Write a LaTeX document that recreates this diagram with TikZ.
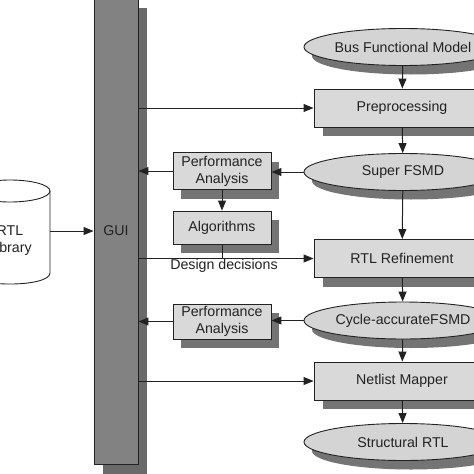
\documentclass[tikz,border=0pt]{standalone}
\usepackage{fontspec}
\setmainfont{Liberation Sans}
\usetikzlibrary{arrows.meta,shapes.geometric,shadows}
\definecolor{boxfill}{HTML}{D9D9D9}
\definecolor{ellfill}{HTML}{D4D4D4}
\definecolor{shad}{HTML}{747474}
\definecolor{guifill}{HTML}{828282}
\definecolor{guishad}{HTML}{6A6A6A}
\definecolor{linec}{HTML}{222222}
\begin{document}
\begin{tikzpicture}[x=1pt,y=-1pt,
  every node/.style={font=\fontsize{14.2}{17}\selectfont, text=linec},
  arr/.style={draw=linec, line width=1pt, -{Triangle[length=10pt,width=8pt]}},
  conn/.style={draw=linec, line width=1pt},
  flowbox/.style={rectangle, draw=linec, line width=0.9pt, fill=boxfill,
    minimum width=176pt, minimum height=38pt, inner sep=0pt,
    drop shadow={shadow xshift=9pt, shadow yshift=-9pt, fill=shad, opacity=1}},
  flowell/.style={ellipse, draw=linec, line width=0.9pt, fill=ellfill,
    minimum width=198pt, minimum height=37pt, inner sep=0pt,
    drop shadow={shadow xshift=8pt, shadow yshift=-9pt, fill=shad, opacity=1}},
  sidebox/.style={rectangle, draw=linec, line width=0.9pt, fill=boxfill,
    minimum width=98pt, minimum height=37pt, inner sep=0pt, align=center,
    drop shadow={shadow xshift=8pt, shadow yshift=-9pt, fill=shad, opacity=1}},
  guibar/.style={rectangle, draw=linec, line width=0.9pt, fill=guifill,
    minimum width=44pt, minimum height=466pt, inner sep=0pt,
    drop shadow={shadow xshift=9pt, shadow yshift=-10pt, fill=guishad, opacity=1}}
]
\useasboundingbox (0,0) rectangle (474,474);

% RTL library cylinder
\draw[draw=linec, line width=0.9pt, fill=white]
  (-30,191) -- (-30,273) .. controls (-30,287.7) and (50,287.7) .. (50,273) -- (50,191);
\draw[draw=linec, line width=0.9pt, fill=white] (10,191) ellipse [x radius=40, y radius=11];
\node[align=center] (lib) at (10,241) {RTL\\Library};
\coordinate (libR) at (50,231);

% GUI
\node[guibar] (gui) at (116,231) {GUI};

% main flow
\node[flowell] (bfm) at (403,47) {Bus Functional Model};
\node[flowbox] (pre) at (402,108) {Preprocessing};
\node[flowell] (sfsmd) at (403,172) {Super FSMD};
\node[flowbox] (rtl) at (402,258.5) {RTL Refinement};
\node[flowell] (cfsmd) at (403,320.5) {Cycle-accurateFSMD};
\node[flowbox] (nm) at (402,381) {Netlist Mapper};
\node[flowell] (srtl) at (403,442) {Structural RTL};

% side boxes
\node[sidebox] (pa1) at (222,171) {Performance\\Analysis};
\node[sidebox, minimum height=33pt] (alg) at (222,227.5) {Algorithms};
\node[sidebox, minimum height=35pt] (pa2) at (222,321.5) {Performance\\Analysis};

% connectors
\draw[arr] (libR) -- (gui.west |- libR);
\draw[arr] (bfm) -- (pre);
\draw[arr] (pre) -- (sfsmd);
\draw[arr] (sfsmd) -- (rtl);
\draw[arr] (rtl) -- (cfsmd);
\draw[arr] (cfsmd) -- (nm);
\draw[arr] (nm) -- (srtl);

\draw[arr] (gui.east |- pre.west) -- (pre.west);
\draw[arr] (sfsmd.west) -- (pa1.east |- sfsmd.west);
\draw[arr] (pa1.west) -- (gui.east |- pa1.west);
\draw[arr] (pa1) -- (alg);
\draw[arr] (gui.east |- rtl.west) -- (rtl.west);
\draw[conn] (alg.south) -- (alg.south |- rtl.west) coordinate (dd);
\node[anchor=north, inner sep=1pt] (ddlabel) at ([xshift=2pt]dd) {Design decisions};
\draw[arr] (cfsmd.west) -- (pa2.east |- cfsmd.west);
\draw[arr] (pa2.west) -- (gui.east |- pa2.west);
\draw[arr] (gui.east |- nm.west) -- (nm.west);
\end{tikzpicture}
\end{document}
